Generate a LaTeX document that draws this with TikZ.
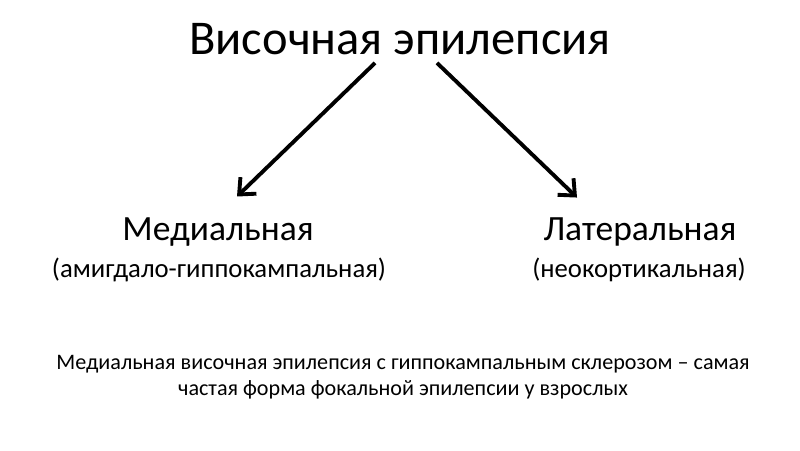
\documentclass[tikz,border=0pt]{standalone}
\usepackage{fontspec}
\setmainfont{Carlito}
\usetikzlibrary{arrows.meta,positioning}

\begin{document}
\begin{tikzpicture}[
	arrow/.style={line width=2.2pt, -{Straight Barb[length=2.6mm,width=4.6mm,line width=2.2pt]}},
	head/.style={font=\fontsize{27.6}{32}\selectfont},
	kind/.style={font=\fontsize{20.2}{25}\selectfont},
	sub/.style={font=\fontsize{15.2}{17}\selectfont},
	note/.style={font=\fontsize{12.6}{14.8}\selectfont, align=center}
	]
	\useasboundingbox (0,0) rectangle (16,-9);
	\node[head] (title) at (8,-0.78) {Височная эпилепсия};
	\node[kind] (medial) at (4.36,-4.64) {Медиальная};
	\node[sub] (medialsub) at (4.38,-5.4) {(амигдало-гиппокампальная)};
	\node[kind] (lateral) at (12.8,-4.64) {Латеральная};
	\node[sub] (lateralsub) at (12.78,-5.4) {(неокортикальная)};
	\node[note] (note) at (8.06,-7.54) {Медиальная височная эпилепсия с гиппокампальным склерозом -- самая\\частая форма фокальной эпилепсии у взрослых};
	\draw[arrow] ([xshift=-0.5cm,yshift=-0.04cm]title.south) -- ([xshift=0.38cm,yshift=0.3cm]medial.north);
	\draw[arrow] ([xshift=0.74cm,yshift=-0.04cm]title.south) -- ([xshift=-1.26cm,yshift=0.28cm]lateral.north);
\end{tikzpicture}
\end{document}
